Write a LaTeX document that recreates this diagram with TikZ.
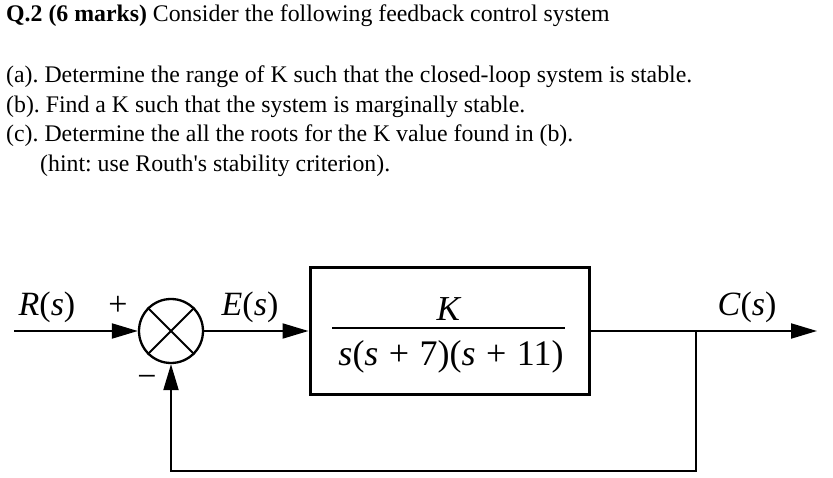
\documentclass[tikz,border=0pt]{standalone}
\usepackage{fontspec}
\setmainfont{Liberation Serif}
\usetikzlibrary{arrows.meta}
\frenchspacing

\tikzset{
  sig/.style={line width=2pt,-{Triangle[length=26pt,width=15pt]}},
  wire/.style={line width=2pt},
  lbl/.style={font=\fontsize{34}{40}\selectfont,inner sep=0pt},
  txt/.style={font=\fontsize{23.8}{28}\selectfont,anchor=base west,inner sep=0pt},
}
\newcommand{\opsp}{\hspace{0.29em}}

\begin{document}
\begin{tikzpicture}[x=1pt,y=-1pt]
\useasboundingbox[fill=white] (0,0) rectangle (833,478);
   \draw (6,22) node[txt] (q) {\textbf{Q.2 (6 marks)} Consider the following feedback control system};
  \draw (6,83) node[txt] (a) {(a). Determine the range of K such that the closed-loop system is stable.};
  \draw (6,113) node[txt] (b) {(b). Find a K such that the system is marginally stable.};
  \draw (6,142) node[txt] (c) {(c). Determine the all the roots for the K value found in (b).};
  \draw (40,172) node[txt] (hint) {(hint: use Routh\textquotesingle s stability criterion).};

  \draw (171,331) node[circle,draw,line width=2.3pt,minimum size=64pt,inner sep=0pt] (sum) {};
  \draw (449.5,331) node[draw,line width=3pt,minimum width=279pt,minimum height=126pt] (plant) {};
      \draw (449,309) node[lbl,font=\fontsize{35}{40}\selectfont] (num) {\textit{K}};
      \draw (451,357) node[lbl,font=\fontsize{36}{40}\selectfont] (den) {\textit{s}(\textit{s}\opsp+\opsp7)(\textit{s}\opsp+\opsp11)};
  \coordinate (barl) at (332,328);
  \coordinate (barr) at (565,328);

  \coordinate (in) at (14,331);
  \coordinate (out) at (817,331);
  \coordinate (br) at (696,331);
  \coordinate (fb) at (696,471);

  \draw (47,307) node[lbl] (R) {\textit{R}(\textit{s})};
  \draw (118,306) node[lbl] (plus) {+};
  \draw (147,381) node[lbl] (minus) {−};
  \draw (250,307) node[lbl] (E) {\textit{E}(\textit{s})};
  \draw (747,307) node[lbl] (C) {\textit{C}(\textit{s})};

    \path[wire] (sum.north west) edge (sum.south east);
    \path[wire] (sum.north east) edge (sum.south west);
    \path[wire] (barl) edge (barr);
     \path[sig] (in) edge (sum);
     \path[sig] (sum) edge (plant);
     \path[sig] (plant) edge (out);
      \draw[sig] (br) -- (fb) -| (sum);

\end{tikzpicture}
\end{document}
